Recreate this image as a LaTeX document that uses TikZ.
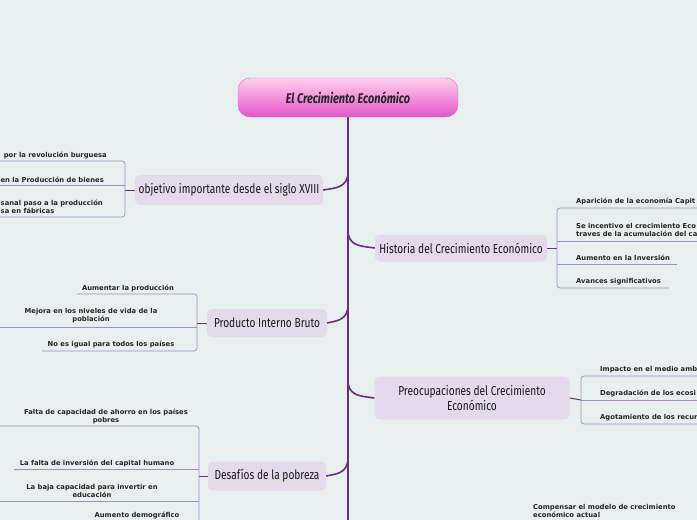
\documentclass[tikz,border=0pt]{standalone}
\usepackage{fontspec}
\setmainfont{DejaVu Sans}
\newfontfamily\nodefont[FakeStretch=0.78]{Fira Sans}
\definecolor{bg}{HTML}{E8F0EF}
\definecolor{sp}{HTML}{6A2D84}
\definecolor{ln}{HTML}{A48BC4}
\definecolor{mf}{HTML}{E5D9EC}
\begin{document}
\begin{tikzpicture}[x=1pt,y=-1pt,
  leaf/.style={font=\fontsize{6.8}{8}\selectfont\bfseries, text=black!85, inner sep=0pt, align=center},
  line/.style={draw=ln, line width=0.7pt, rounded corners=3pt},
  main/.style={rounded corners=5pt, fill=mf, draw=none, font=\nodefont\fontsize{13}{15}\selectfont, text=black!90, align=center, inner sep=0pt},
  spine/.style={draw=sp, line width=1.6pt},
]
\fill[bg] (0,0) rectangle (697,520);
\useasboundingbox (0,0) rectangle (697,520);
\draw[spine, line width=2.4pt] (348,117) -- (348,520);
\node[rounded corners=12pt, top color=pink!70!magenta!40, bottom color=magenta!50!pink!90!black, draw=violet!50, minimum width=220pt, minimum height=39pt, font=\nodefont\fontsize{14}{16}\selectfont\bfseries\itshape, text=black!85] (c) at (348,97.5) {El Crecimiento Económico};
\node[main, minimum width=188pt, minimum height=30pt] (o) at (229,190) {objetivo importante desde el siglo XVIII};
\node[main, minimum width=172pt, minimum height=27pt] (h) at (461,248) {Historia del Crecimiento Económico};
\node[main, minimum width=120pt, minimum height=28pt] (p) at (267,323) {Producto Interno Bruto};
\node[main, minimum width=195pt, minimum height=43pt] (q) at (472,398) {Preocupaciones del Crecimiento\\Económico};
\node[main, minimum width=118pt, minimum height=29pt] (d) at (267,476) {Desafíos de la pobreza};
\coordinate (so) at (348,172); \coordinate (sh) at (348,230);
\coordinate (sp) at (348,305); \coordinate (sq) at (348,380); \coordinate (sd) at (348,458);
\draw[spine] (so) .. controls (348,188) and (335,188) .. (o.east);
\draw[spine] (sp) .. controls (348,321) and (335,321) .. (p.east);
\draw[spine] (sd) .. controls (348,474) and (335,474) .. (d.east);
\draw[spine] (sh) .. controls (348,246) and (360,246) .. (h.west);
\draw[spine] (sq) .. controls (348,396) and (360,396) .. (q.west);
\coordinate (ob) at (125,190);
\draw[spine, line width=1pt] (o.west) -- (ob);
\draw[line] (0,161) -- (125,161) -- (125,217) -- (0,217);
\draw[line] (0,185) -- (125,185);
\node[leaf, anchor=east] (o1) at (107,155.5) {por la revolución burguesa};
\node[leaf, anchor=east] (o2) at (104,179.5) {en la Producción de bienes};
\node[leaf, anchor=east, align=left] (o3) at (103,207) {sanal paso a la producción\\sa en fábricas};
\coordinate (pb) at (197,323);
\draw[spine, line width=1pt] (p.west) -- (pb);
\draw[line] (77,294) -- (197,294) -- (197,351) -- (42,351);
\draw[line] (0,327) -- (197,327);
\node[leaf] (p1) at (128,288.5) {Aumentar la producción};
\node[leaf] (p2) at (91,316) {Mejora en los niveles de vida de la\\población};
\node[leaf] (p3) at (111,344.5) {No es igual para todos los países};
\coordinate (db) at (199,476);
\draw[spine, line width=1pt] (d.west) -- (db);
\draw[line] (0,426) -- (199,426) -- (199,520);
\draw[line] (14,469) -- (199,469);
\draw[line] (0,501) -- (199,501);
\node[leaf] (d1) at (106,416) {Falta de capacidad de ahorro en los países\\pobres};
\node[leaf] (d2) at (97,463.5) {La falta de inversión del capital humano};
\node[leaf] (d3) at (92,491) {La baja capacidad para invertir en\\educación};
\node[leaf] (d4) at (137,516) {Aumento demográfico};
\coordinate (hb) at (557,248);
\draw[spine, line width=1pt] (h.east) -- (hb);
\draw[line] (697,208) -- (557,208) -- (557,288) -- (669,288);
\draw[line] (557,241) -- (697,241);
\draw[line] (557,264) -- (677,264);
\node[leaf, anchor=west] (h1) at (576,201.5) {Aparición de la economía Capit};
\node[leaf, anchor=west, align=left] (h2) at (576,229.5) {Se incentivo el crecimiento Eco\\traves de la acumulación del ca};
\node[leaf, anchor=west] (h3) at (576,258) {Aumento en la Inversión};
\node[leaf, anchor=west] (h4) at (576,282) {Avances significativos};
\coordinate (qb) at (581,400);
\draw[spine, line width=1pt] (q.east) -- (qb);
\draw[line] (697,376) -- (581,376) -- (581,424) -- (697,424);
\draw[line] (581,400) -- (697,400);
\node[leaf, anchor=west] (q1) at (600,370) {Impacto en el medio amb};
\node[leaf, anchor=west] (q2) at (600,393.5) {Degradación de los ecosi};
\node[leaf, anchor=west] (q3) at (600,417.5) {Agotamiento de los recur};
\node[leaf, anchor=west, align=left] (r1) at (533,511) {Compensar el modelo de crecimiento\\económico actual};
\end{tikzpicture}
\end{document}
